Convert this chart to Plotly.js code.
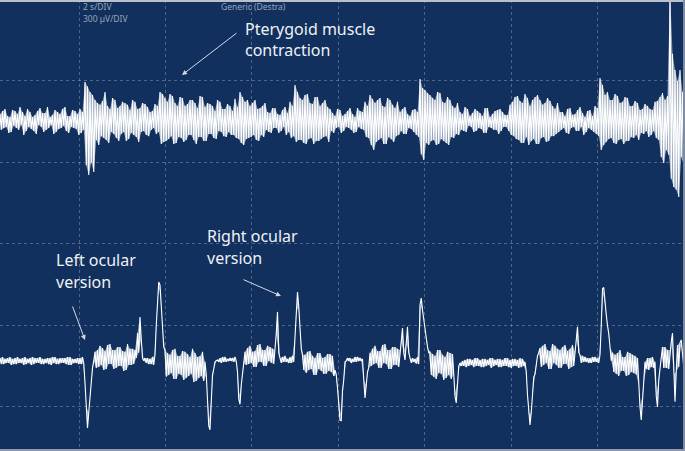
<!DOCTYPE html>
<html><head><meta charset="utf-8">
<script src="https://cdn.plot.ly/plotly-3.0.1.min.js"></script>
<style>html,body{margin:0;padding:0;background:#12305d;overflow:hidden}#chart{width:685px;height:451px}</style>
</head><body><div id="chart"></div>
<script>
// Oscilloscope capture: 2 s/DIV, 300 µV/DIV.
// Each screen column gives four readings (µV): A at its start, C, D, then B.
const timeStart = 0.171;      // s at left edge of screen
const columnStep = 0.11574;   // s between columns
const divTime = 2;            // s per division
const divVolt = 300;          // µV per division

// Channel 1 – pterygoid muscle EMG (upper trace)
const topA = [478,497,467,489,504,471,486,475,500,482,
467,493,478,504,471,489,497,596,559,530,
512,559,497,530,508,519,493,523,500,515,
486,515,559,537,552,519,541,508,530,519,
545,504,515,489,523,497,508,534,559,523,
508,530,500,519,482,500,475,504,523,585,
537,548,519,541,508,530,497,471,493,478,
500,467,489,523,548,519,537,504,530,500,
486,504,471,497,607,567,548,530,556,519,
530,500,486,504,471,497,482,500,467,489,
497,475,512,541,526,552,508,541,530,519,
526,497,486,471,500,478,504,467,493,508,
611,548,530,552,519,541,508,526,493,515,
497,523,541,530,935,640,640,530];
const topC = [420,431,412,427,438,416,423,405,431,420,
438,412,427,416,431,423,409,290,300,383,
397,383,412,390,405,379,409,394,412,401,
420,405,368,379,397,372,390,383,401,368,
394,379,405,386,412,394,401,390,372,386,
394,383,401,420,409,427,416,401,390,375,
383,368,390,379,386,397,416,427,409,431,
420,412,423,394,364,375,390,368,386,397,
416,405,423,401,330,372,379,364,386,372,
394,405,420,412,431,416,423,409,427,420,
416,431,401,386,372,394,379,368,390,375,
397,405,420,409,427,416,431,412,420,405,
346,375,390,368,386,379,394,401,409,416,
401,390,320,346,240,200,320,370];
const topD = [489,471,493,478,486,497,467,489,482,504,
475,486,497,471,493,478,486,580,548,519,
526,508,537,500,523,512,530,497,519,504,
489,508,552,523,545,508,537,515,530,500,
541,519,508,530,497,515,489,504,541,530,
519,497,508,486,500,478,493,482,508,559,
530,552,515,541,519,504,482,497,471,489,
478,500,486,508,534,530,508,537,512,523,
497,478,493,486,574,556,537,559,523,541,
508,519,478,497,482,489,471,500,478,493,
486,475,523,545,519,537,530,548,512,537,
508,519,486,497,475,493,482,489,471,500,
585,559,530,545,523,537,508,519,497,508,
493,526,556,545,700,600,560,540];
const topB = [427,409,435,420,401,431,416,438,412,427,
405,423,435,409,427,401,420,254,265,364,
390,372,405,379,412,386,401,375,416,397,
427,412,375,386,368,394,375,401,383,394,
379,405,390,416,397,412,401,386,364,390,
401,379,394,412,427,409,431,412,397,383,
372,386,368,379,394,375,409,431,416,427,
409,431,420,390,346,383,368,394,375,401,
405,427,412,394,309,364,383,368,379,364,
390,401,416,435,412,427,409,431,420,405,
431,416,397,383,372,364,386,368,394,379,
397,412,427,405,431,416,401,427,412,397,
364,386,372,383,368,379,390,383,405,394,
416,383,298,328,210,173,291,346];

// Channel 2 – ocular version (lower trace)
const botA = [-420,-423,-416,-420,-423,-416,-420,-420,-416,-423,-420,-416,-420,-420,-416,-423,-420,
-512,-563,-397,
-375,-394,-368,-390,-379,-397,-386,
-390,-269,-420,-423,-408,-151,
-390,-408,-386,-412,-397,-416,-401,-412,
-434,-684,-434,-420,-416,-420,-416,-590,
-397,-375,-394,-368,-390,-379,
-390,-420,-412,-416,-342,-316,
-408,-394,-420,-401,-416,-405,
-464,-648,-434,-420,-416,-420,-567,
-401,-375,-394,-368,-390,-379,
-390,-427,-427,-423,-224,-316,
-397,-412,-390,-416,-401,
-560,
-438,-427,-423,-420,-427,-423,-420,-427,-423,-420,-427,-423,-420,
-434,-666,-480,
-383,-368,-394,-375,-390,-372,-386,
-397,-408,-416,-420,-416,
-408,-224,-379,
-408,-390,-416,-401,-412,
-600,-434,-420,-434,-453,-379,-390,-581,-364,-372];
const botC = [-442,-438,-445,-442,-438,-442,-445,-438,-442,-438,-445,-442,-438,-442,-445,-438,-442,
-600,-510,-456,
-445,-460,-442,-456,-449,-464,-445,
-420,-350,-438,-442,-300,-230,
-489,-475,-497,-482,-493,-478,-504,-486,
-480,-560,-430,-438,-434,-431,-431,-520,
-445,-438,-453,-434,-449,-438,
-330,-438,-434,-438,-250,-385,
-475,-460,-482,-467,-478,-471,
-480,-650,-430,-438,-434,-431,-520,
-449,-438,-456,-442,-460,-445,
-360,-360,-438,-440,-199,-340,
-482,-497,-478,-493,-497,
-585,
-449,-453,-445,-449,-453,-449,-456,-445,-453,-449,-456,-449,-453,
-470,-620,-440,
-453,-438,-460,-445,-456,-442,-453,
-350,-438,-434,-438,-434,
-300,-260,-430,
-478,-467,-486,-471,-480,
-648,-460,-453,-560,-400,-456,-360,-470,-353,-456];
const botD = [-416,-420,-423,-416,-420,-423,-416,-420,-423,-420,-416,-423,-420,-416,-423,-420,-416,
-677,-456,-390,
-383,-372,-390,-379,-394,-368,-386,
-328,-420,-420,-416,-200,-300,
-401,-390,-412,-394,-405,-386,-416,-397,
-574,-482,-427,-416,-423,-420,-470,-471,
-383,-397,-372,-390,-375,-386,
-250,-416,-423,-412,-177,-408,
-397,-412,-401,-420,-405,-412,
-530,-540,-420,-423,-416,-423,-471,
-386,-394,-372,-390,-379,-386,
-309,-305,-420,-416,-243,-380,
-405,-390,-408,-397,-405,
-500,
-431,-423,-427,-420,-423,-427,-420,-423,-427,-420,-423,-427,-423,
-556,-556,-412,
-375,-390,-368,-386,-379,-394,-372,
-305,-412,-420,-416,-420,
-165,-300,-400,
-401,-416,-397,-408,-420,
-560,-420,-416,-600,-379,-390,-328,-372,-400,-379];
const botB = [-442,-438,-442,-438,-445,-438,-442,-438,-442,-442,-438,-442,-438,-445,-438,-442,-438,
-620,-430,-453,
-464,-442,-460,-449,-467,-445,-442,
-400,-430,-442,-445,-140,-380,
-482,-497,-478,-501,-486,-508,-493,-504,
-670,-460,-434,-434,-431,-434,-570,-440,
-442,-453,-434,-449,-431,-442,
-400,-434,-438,-434,-230,-464,
-464,-482,-460,-478,-467,-486,
-580,-500,-431,-434,-431,-500,-455,
-442,-456,-438,-460,-445,-453,
-400,-400,-434,-442,-280,-400,
-489,-475,-501,-482,-480,
-450,
-449,-449,-453,-449,-453,-445,-449,-453,-449,-453,-449,-456,-449,
-630,-490,-400,
-445,-460,-438,-456,-442,-460,-449,
-400,-434,-438,-434,-438,
-160,-330,-471,
-486,-467,-482,-475,-520,
-508,-464,-456,-500,-456,-460,-480,-453,-453,-456];

const headerTexts = ['2 s/DIV', '300 µV/DIV', 'Generic (Destra)'];
const labelTexts = ['Pterygoid muscle', 'contraction', 'Right ocular', 'version', 'Left ocular', 'version'];

function interleave(...arrs) { const o = []; const n = Math.min(...arrs.map(a => a.length)); for (let i = 0; i < n; i++) { for (const a of arrs) o.push(a[i]); } return o; }

const W = 685, H = 451;
const px = x => x / W, py = y => 1 - y / H;
const xRange = [timeStart, timeStart + W * divTime / 86.4];
const yRange = [-762, 898];

const lineStyle = {color: '#ffffff', width: 1.1};
const q = columnStep / 4;
function channel(a, c, d, b) {
  return [
    {type: 'scatter', mode: 'lines', y: interleave(a, d), x0: timeStart, dx: 2 * q, line: {width: 0, color: 'rgba(0,0,0,0)'}, hoverinfo: 'skip'},
    {type: 'scatter', mode: 'lines', y: interleave(c, b), x0: timeStart + q, dx: 2 * q, line: {width: 0, color: 'rgba(0,0,0,0)'}, fill: 'tonexty', fillcolor: 'rgba(232,238,247,0.6)', hoverinfo: 'skip'},
    {type: 'scatter', mode: 'lines', y: interleave(a, c, d, b), x0: timeStart, dx: q, line: lineStyle, hoverinfo: 'skip'}
  ];
}
const traces = channel(topA, topC, topD, topB).concat(channel(botA, botC, botD, botB));

const small = {family: 'Noto Sans, DejaVu Sans, sans-serif', size: 8.5, color: '#9aa5ba'};
const big = {family: 'Noto Sans, Liberation Sans, sans-serif', size: 16, color: '#eef2f7'};
function txt(t, x, y, f) { return {text: t, x: px(x), y: py(y), xref: 'paper', yref: 'paper', xanchor: 'left', yanchor: 'middle', showarrow: false, font: f}; }
function arrow(hx, hy, tx, ty) { return {text: '', x: px(hx), y: py(hy), xref: 'paper', yref: 'paper', ax: tx - hx, ay: ty - hy, showarrow: true, arrowhead: 2, arrowsize: 1, arrowwidth: 1, arrowcolor: '#d3d9e3'}; }

const annotations = [
  txt(headerTexts[0], 81, 7, small),
  txt(headerTexts[1], 81, 18, small),
  txt(headerTexts[2], 219, 7, small),
  txt(labelTexts[0], 243, 29, big),
  txt(labelTexts[1], 243, 50, big),
  txt(labelTexts[2], 205, 236, big),
  txt(labelTexts[3], 205, 258, big),
  txt(labelTexts[4], 54, 260, big),
  txt(labelTexts[5], 54, 282, big),
  arrow(182, 75, 238, 32),
  arrow(281, 296, 242, 279),
  arrow(85, 340, 72, 305)
];

const layout = {
  width: W, height: H,
  margin: {l: 0, r: 0, t: 0, b: 0, pad: 0},
  paper_bgcolor: '#12305d', plot_bgcolor: '#12305d',
  showlegend: false,
  xaxis: {range: xRange, tick0: 0, dtick: divTime, showgrid: true, gridcolor: 'rgba(140,155,185,0.5)', griddash: 'dot', gridwidth: 1, zeroline: false, showticklabels: false, ticks: '', showline: false},
  yaxis: {range: yRange, tick0: 0, dtick: divVolt, showgrid: true, gridcolor: 'rgba(140,155,185,0.5)', griddash: 'dot', gridwidth: 1, zeroline: false, showticklabels: false, ticks: '', showline: false},
  annotations: annotations,
  shapes: [
    {type: 'rect', xref: 'paper', yref: 'paper', x0: 0, x1: 1, y0: py(2), y1: 1, fillcolor: '#b9c0cc', line: {width: 0}},
    {type: 'rect', xref: 'paper', yref: 'paper', x0: px(683), x1: 1, y0: 0, y1: 1, fillcolor: '#7e8ba3', line: {width: 0}},
    {type: 'rect', xref: 'paper', yref: 'paper', x0: 0, x1: 1, y0: 0, y1: py(449), fillcolor: '#8d99ae', line: {width: 0}}
  ]
};

[topA, topC, topD, topB, botA, botC, botD, botB].forEach((a, i) => { if (a.length !== 138) console.error('array ' + i + ' has ' + a.length); });
Plotly.newPlot('chart', traces, layout, {staticPlot: true, displayModeBar: false});
</script>
</body></html>
